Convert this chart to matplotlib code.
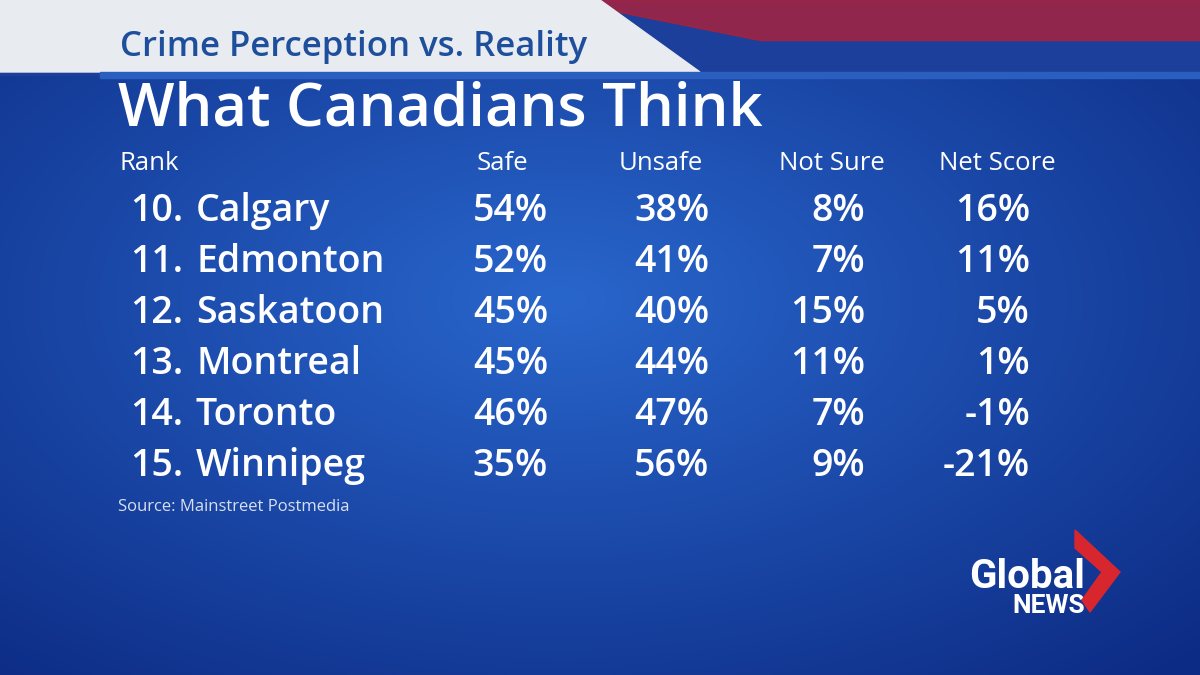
import numpy as np
import matplotlib
matplotlib.use("Agg")
import matplotlib.pyplot as plt
from matplotlib.patches import Polygon

ranks = ["10.", "11.", "12.", "13.", "14.", "15."]
cities = ["Calgary", "Edmonton", "Saskatoon", "Montreal", "Toronto", "Winnipeg"]
safe = [54, 52, 45, 45, 46, 35]
unsafe = [38, 41, 40, 44, 47, 56]
not_sure = [8, 7, 15, 11, 7, 9]
net = [16, 11, 5, 1, -1, -21]
headers = ["Rank", "Safe", "Unsafe", "Not Sure", "Net Score"]

fig = plt.figure(figsize=(12, 6.75), dpi=100)
ax = fig.add_axes([0, 0, 1, 1])
ax.set_xlim(0, 1200); ax.set_ylim(675, 0); ax.axis("off")

yy, xx = np.mgrid[0:675, 0:1200]
r = np.sqrt(((xx - 560) / 900) ** 2 + ((yy - 300) / 500) ** 2)
t = np.clip(r, 0, 1)[..., None]
c1 = np.array([0.16, 0.40, 0.80]); c2 = np.array([0.05, 0.17, 0.52])
img = c1 * (1 - t) + c2 * t
ax.imshow(img, extent=[0, 1200, 675, 0], zorder=0, aspect="auto")
ax.add_patch(Polygon([[0, 0], [1200, 0], [1200, 75], [0, 75]], color="#1b3f9a", zorder=1))
ax.add_patch(Polygon([[560, 0], [1200, 0], [1200, 40], [760, 40]], color="#b0203a", zorder=1, alpha=0.8))
ax.add_patch(Polygon([[0, 0], [600, 0], [700, 72], [0, 72]], color="#e8ebf0", zorder=2))
ax.add_patch(Polygon([[100, 72], [1200, 72], [1200, 78], [100, 78]], color="#2a5fc0", zorder=2))
ax.text(120, 47, "Crime Perception vs. Reality", color="#1d4f9c", fontsize=25, family="Open Sans",
        fontweight="semibold", va="center", ha="left", zorder=3)
ax.text(118, 110, "What Canadians Think", color="white", fontsize=43, family="Open Sans",
        fontweight="semibold", va="center", ha="left", zorder=3)

hy = 164
hkw = dict(color="white", fontsize=18.5, family="Open Sans", va="center")
ax.text(120, hy, headers[0], ha="left", **hkw)
for h, x in zip(headers[1:], [502, 661, 832, 997]):
    ax.text(x, hy, h, ha="center", **hkw)

kw = dict(color="white", fontsize=27, family="Open Sans", fontweight="semibold", va="center")
for i in range(len(cities)):
    y = 211 + i * 51
    ax.text(183, y, ranks[i], ha="right", **kw)
    ax.text(196, y, cities[i], ha="left", **kw)
    ax.text(548, y, f"{safe[i]}%", ha="right", **kw)
    ax.text(709, y, f"{unsafe[i]}%", ha="right", **kw)
    ax.text(865, y, f"{not_sure[i]}%", ha="right", **kw)
    ax.text(1030, y, f"{net[i]}%", ha="right", **kw)

ax.text(118, 507, "Source: Mainstreet Postmedia", color="#d8e0f0", fontsize=12,
        family="Open Sans", va="center", ha="left")

ax.text(1085, 577, "Global", color="white", fontsize=29, family="Roboto", fontweight="bold",
        va="center", ha="right")
ax.text(1085, 606, "NEWS", color="white", fontsize=19, family="Roboto", fontweight="bold",
        va="center", ha="right")
ax.add_patch(Polygon([[1075, 530], [1120, 572], [1090, 612], [1082, 600], [1102, 572], [1075, 548]],
                     color="#d8262e", zorder=3))

fig.savefig("out.png", dpi=100)
